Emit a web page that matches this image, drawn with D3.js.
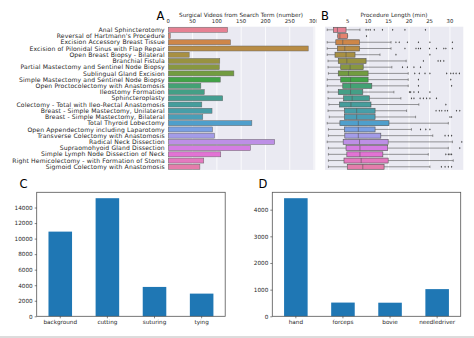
<!DOCTYPE html>
<html><head><meta charset="utf-8">
<script src="https://cdn.jsdelivr.net/npm/d3@7"></script>
<style>body{margin:0;background:#fff}svg{display:block;font-family:"DejaVu Sans",sans-serif}</style>
</head><body><svg id="c" width="474" height="338"></svg>
<script>
// ---------- DATA ----------
const procedures = ["Anal Sphincterotomy","Reversal of Hartmann's Procedure","Excision Accessory Breast Tissue","Excision of Pilonidal Sinus with Flap Repair","Open Breast Biopsy - Bilateral","Branchial Fistula","Partial Mastectomy and Sentinel Node Biopsy","Sublingual Gland Excision","Simple Mastectomy and Sentinel Node Biopsy","Open Proctocolectomy with Anastomosis","Ileostomy Formation","Sphincteroplasty","Colectomy - Total with Ileo-Rectal Anastomosis","Breast - Simple Mastectomy, Unilateral","Breast - Simple Mastectomy, Bilateral","Total Thyroid Lobectomy","Open Appendectomy including Laparotomy","Transverse Colectomy with Anastomosis","Radical Neck Dissection","Supraomohyoid Gland Dissection","Simple Lymph Node Dissection of Neck","Right Hemicolectomy - with Formation of Stoma","Sigmoid Colectomy with Anastomosis"];
const videoCounts = [122,4,128,288,43,106,105,135,107,67,74,112,69,90,71,172,91,95,219,169,108,73,65];
const lenWhiskerLo = [0,2.6,0,0,0,0.2,0.2,0.3,0,0,0.2,0.2,0.4,0.2,0.5,0,0.3,0.3,0,0.3,0.3,0.3,0.3];
const lenQ1 =        [1.5,2.6,2.1,2.5,1.9,2.7,3.3,2.7,3.3,3.8,2.7,4.0,3.0,4.2,4.2,3.1,4.2,4.3,3.9,4.6,4.8,4.1,4.9];
const lenMedian =    [2.5,3.1,3.8,4.3,4.6,4.8,5.6,5.2,5.7,5.7,5.7,6.1,5.8,7.2,7.2,7.6,7.6,7.6,7.9,8.0,8.0,8.3,8.7];
const lenQ3 =        [4.6,5.0,7.9,7.9,6.8,9.5,8.8,10.0,10.0,10.9,8.7,10.3,10.7,11.7,11.7,15.1,11.7,13.1,14.9,14.8,13.6,14.9,13.9];
const lenWhiskerHi = [8.0,5.0,15.6,15.6,12.9,19.3,15.8,19.8,19.8,19.8,16.3,18.0,22.4,19.4,21.6,29.6,20.6,25.8,30.6,29.6,24.7,30.8,25.1];
const lenOutliers = [
  [9.5,10,10.5,11.5,13.5,16,19,24],
  [9.6],
  [16.8,17.6,19.6,22.3,25.1,30.6],
  [19,21.7,22.3,22.8,25,26.7,28.5,29,30.6],
  [16.8,25.1],
  [23.5,27.1,27.7,28.5],
  [18.4,19.6,21.2,22.8],
  [21.4,22.5,23.9,25.1,29.2,30.2,30.8,31.5,32.3],
  [22.3,30.2],
  [22.3,30.4],
  [20.1,20.4,21.2,22.3,25.1],
  [20.6,21.2,22.7,23.5,24.3,25.1,26.7],
  [29],
  [26.6,27.4,28,28.8,29.4,31.6,32.4],
  [30,30.4],
  [],
  [22.8,24.1,25.1],
  [28.8,29.6,30.4],
  [32.9],
  [32.4],
  [29,29.6,30,30.4],
  [],
  [27.9,28.8,29.6,30.4]
];
const countTicks = [0,50,100,150,200,250,300];
const lengthTicks = [5,10,15,20,25,30];
const actions = ["background","cutting","suturing","tying"];
const actionCounts = [10900,15200,3780,2920];
const actionTicks = [0,2000,4000,6000,8000,10000,12000,14000];
const tools = ["hand","forceps","bovie","needledriver"];
const toolCounts = [4430,515,510,1020];
const toolTicks = [0,1000,2000,3000,4000];

// ---------- HUSL palette (seaborn style) ----------
function huslToRgb(h, s, l){
  const M=[[3.2406,-1.5372,-0.4986],[-0.9689,1.8758,0.0415],[0.0557,-0.2040,1.0570]];
  const refU=0.19784, refV=0.46834, kappa=903.3;
  const hrad=h*Math.PI/180, sinH=Math.sin(hrad), cosH=Math.cos(hrad);
  const sub1=Math.pow(l+16,3)/1560896, sub2=sub1>0.008856?sub1:l/kappa;
  let mx=Infinity;
  for(const [m1,m2,m3] of M){
    const top=(0.99915*m1+1.05122*m2+1.14460*m3)*sub2;
    const rb=0.86330*m3-0.17266*m2, lb=0.12949*m3-0.38848*m1;
    const bottom=(rb*sinH+lb*cosH)*sub2;
    for(const t of [0,1]){
      const C=l*(top-1.05122*t)/(bottom+0.17266*sinH*t);
      if(C>0&&C<mx) mx=C;
    }
  }
  const c=mx/100*s, u=Math.cos(hrad)*c, v=Math.sin(hrad)*c;
  const Y=l>8?Math.pow((l+16)/116,3):l/kappa;
  const vu=u/(13*l)+refU, vv=v/(13*l)+refV;
  const X=0-(9*Y*vu)/((vu-4)*vv-vu*vv);
  const Z=(9*Y-15*vv*Y-vv*X)/(3*vv);
  const fl=x=>x<=0.0031308?12.92*x:1.055*Math.pow(x,1/2.4)-0.055;
  return M.map(r=>Math.max(0,Math.min(1,fl(r[0]*X+r[1]*Y+r[2]*Z))));
}
const n=procedures.length;
const palette=d3.range(n).map(i=>{
  let hh=((i/n)+0.01)%1*359;
  const rgb=huslToRgb(hh,0.9*99,0.65*99);
  const col=d3.hsl(d3.rgb(rgb[0]*255,rgb[1]*255,rgb[2]*255));
  col.s*=0.75;
  return col.formatHex();
});

const svg=d3.select("#c");
const txt="#262626";

// ---------- Panel A ----------
const yBand=d3.scaleBand().domain(procedures).range([26.7,169.9]).paddingInner(0.2).paddingOuter(0.1);
const yRow=d3.scaleBand().domain(procedures).range([26.7,169.9]);
const xA=d3.scaleLinear().domain([0,302.4]).range([168.3,315.2]);
const gA=svg.append("g");
gA.append("rect").attr("x",xA(0)).attr("y",26.7).attr("width",xA(302.4)-xA(0)).attr("height",169.9-26.7).attr("fill","#eaeaf2");
gA.selectAll("line.g").data(countTicks).join("line").attr("x1",d=>xA(d)).attr("x2",d=>xA(d)).attr("y1",26.7).attr("y2",169.9).attr("stroke","#fff").attr("stroke-width",0.8);
gA.selectAll("rect.bar").data(procedures).join("rect").attr("class","bar")
  .attr("x",xA(0)).attr("y",d=>yBand(d)).attr("height",yBand.bandwidth())
  .attr("width",(d,i)=>xA(videoCounts[i])-xA(0)).attr("fill",(d,i)=>palette[i])
  .attr("stroke","#666").attr("stroke-width",0.5);
gA.selectAll("text.lab").data(procedures).join("text").attr("class","lab")
  .attr("x",164.8).attr("y",d=>yRow(d)+yRow.bandwidth()/2).attr("dy","0.35em")
  .attr("text-anchor","end").attr("font-size",6.1).attr("letter-spacing",0.13).attr("fill",txt).text(d=>d);
gA.selectAll("text.tk").data(countTicks).join("text").attr("class","tk")
  .attr("x",d=>xA(d)).attr("y",22.6).attr("text-anchor","middle").attr("font-size",5.3).attr("fill",txt).text(d=>d);
gA.append("text").attr("x",241).attr("y",16.6).attr("text-anchor","middle").attr("font-size",5.7).attr("fill",txt).text("Surgical Videos from Search Term (number)");
gA.append("text").attr("x",156.5).attr("y",20).attr("font-size",11.5).attr("fill","#000").text("A");

// ---------- Panel B ----------
const gB=svg.append("g");
gB.append("rect").attr("x",316.6).attr("y",0).attr("width",160).attr("height",176).attr("fill","#fff");
const xB=d3.scaleLinear().domain([-0.54,33.26]).range([325,463.3]);
gB.append("rect").attr("x",xB(-0.54)).attr("y",26.7).attr("width",xB(33.26)-xB(-0.54)).attr("height",169.9-26.7).attr("fill","#eaeaf2");
gB.selectAll("line.g").data(lengthTicks).join("line").attr("x1",d=>xB(d)).attr("x2",d=>xB(d)).attr("y1",26.7).attr("y2",169.9).attr("stroke","#fff").attr("stroke-width",0.8);
gB.selectAll("text.tk").data(lengthTicks).join("text").attr("class","tk")
  .attr("x",d=>xB(d)).attr("y",22.6).attr("text-anchor","middle").attr("font-size",5.3).attr("fill",txt).text(d=>d);
gB.append("text").attr("x",394).attr("y",16.6).attr("text-anchor","middle").attr("font-size",5.7).attr("fill",txt).text("Procedure Length (min)");
gB.append("text").attr("x",321).attr("y",19.6).attr("font-size",11.5).attr("fill","#000").text("B");
const lineCol="#555";
procedures.forEach((p,i)=>{
  const y0=yBand(p), h=yBand.bandwidth(), yc=y0+h/2;
  const g=gB.append("g");
  g.append("line").attr("x1",xB(lenWhiskerLo[i])).attr("x2",xB(lenQ1[i])).attr("y1",yc).attr("y2",yc).attr("stroke",lineCol).attr("stroke-width",0.6);
  g.append("line").attr("x1",xB(lenQ3[i])).attr("x2",xB(lenWhiskerHi[i])).attr("y1",yc).attr("y2",yc).attr("stroke",lineCol).attr("stroke-width",0.6);
  [lenWhiskerLo[i],lenWhiskerHi[i]].forEach(v=>g.append("line").attr("x1",xB(v)).attr("x2",xB(v)).attr("y1",yc-h/4).attr("y2",yc+h/4).attr("stroke",lineCol).attr("stroke-width",0.6));
  g.append("rect").attr("x",xB(lenQ1[i])).attr("y",y0).attr("width",xB(lenQ3[i])-xB(lenQ1[i])).attr("height",h).attr("fill",palette[i]).attr("stroke",lineCol).attr("stroke-width",0.6);
  g.append("line").attr("x1",xB(lenMedian[i])).attr("x2",xB(lenMedian[i])).attr("y1",y0).attr("y2",y0+h).attr("stroke",lineCol).attr("stroke-width",0.6);
  g.selectAll("path").data(lenOutliers[i]).join("path")
    .attr("d",d=>`M${xB(d)},${yc-1.1}L${xB(d)+0.7},${yc}L${xB(d)},${yc+1.1}L${xB(d)-0.7},${yc}Z`).attr("fill","#3a3a3a");
});

// ---------- Panels C & D ----------
function barPanel(cats, vals, ticks, left, right, label, labelX){
  const top=192.3, bottom=316.3;
  const x=d3.scaleBand().domain(cats).range([left,right]).paddingInner(0.5).paddingOuter(0.25);
  const y=d3.scaleLinear().domain([0,d3.max(vals)*1.05]).range([bottom,top]);
  const g=svg.append("g");
  g.selectAll("rect.b").data(cats).join("rect").attr("class","b")
    .attr("x",d=>x(d)).attr("width",x.bandwidth()).attr("y",(d,i)=>y(vals[i])).attr("height",(d,i)=>bottom-y(vals[i])).attr("fill","#1f77b4");
  g.append("rect").attr("x",left).attr("y",top).attr("width",right-left).attr("height",bottom-top).attr("fill","none").attr("stroke","#555").attr("stroke-width",0.8);
  const ya=g.append("g").attr("transform",`translate(${left},0)`).call(d3.axisLeft(y).tickValues(ticks).tickSize(2).tickPadding(2).tickFormat(d3.format("d")));
  ya.select(".domain").remove();
  ya.selectAll("text").attr("font-size",5.7).attr("fill",txt).attr("font-family","DejaVu Sans");
  ya.selectAll("line").attr("stroke","#333").attr("stroke-width",0.6);
  const xa=g.append("g").attr("transform",`translate(0,${bottom})`).call(d3.axisBottom(x).tickSize(2).tickPadding(2));
  xa.select(".domain").remove();
  xa.selectAll("text").attr("font-size",5.7).attr("fill",txt).attr("font-family","DejaVu Sans");
  xa.selectAll("line").attr("stroke","#333").attr("stroke-width",0.6);
  g.append("text").attr("x",labelX).attr("y",188.3).attr("font-size",11.5).attr("fill","#000").text(label);
}
barPanel(actions, actionCounts, actionTicks, 36.7, 225.2, "C", 19.5);
barPanel(tools, toolCounts, toolTicks, 272.3, 460.7, "D", 258.5);

// bottom strip
svg.append("rect").attr("x",0).attr("y",336).attr("width",474).attr("height",2).attr("fill","#dcdcdc");
</script></body></html>
